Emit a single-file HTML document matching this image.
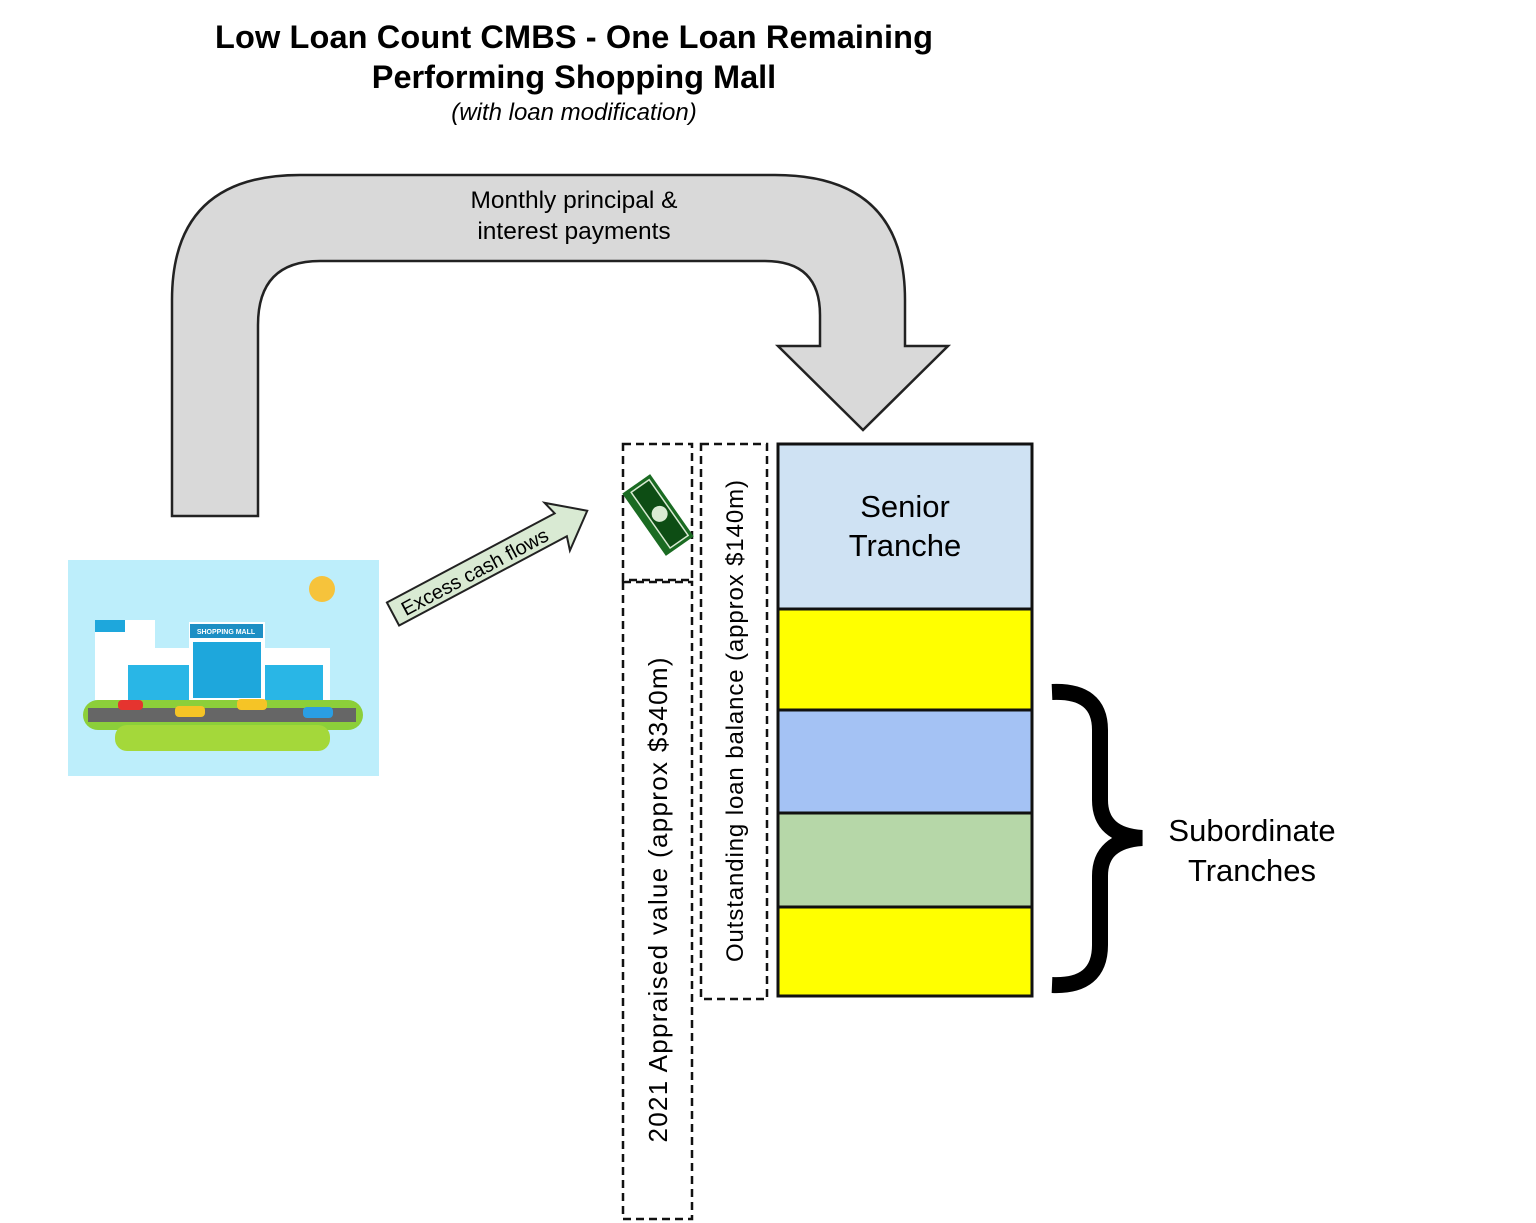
<!DOCTYPE html>
<html><head><style>body{margin:0;background:#fff}svg{display:block}text{font-family:"Liberation Sans",sans-serif}</style></head><body>
<svg width="1536" height="1223" viewBox="0 0 1536 1223">
<text x="574" y="48" text-anchor="middle" font-size="32.5" font-weight="bold" textLength="718">Low Loan Count CMBS - One Loan Remaining</text>
<text x="574" y="88" text-anchor="middle" font-size="32.5" font-weight="bold">Performing Shopping Mall</text>
<text x="574" y="120" text-anchor="middle" font-size="24" font-style="italic">(with loan modification)</text>
<path d="M172,516 L172,300 Q172,175 300,175 L775,175 Q905,175 905,300 L905,346 L948,346 L863,430 L778,346 L820,346 L820,315 Q820,261 765,261 L320,261 Q258,261 258,325 L258,516 Z" fill="#d9d9d9" stroke="#222" stroke-width="2.5"/>
<text x="574" y="208" text-anchor="middle" font-size="24.5">Monthly principal &amp;</text>
<text x="574" y="239" text-anchor="middle" font-size="24.5">interest payments</text>
<g transform="translate(393,614) rotate(-28)">
<path d="M0,-13 L190,-13 L186,-27 L220,0 L186,27 L190,13 L0,13 Z" fill="#d9ead3" stroke="#222" stroke-width="2"/>
<text x="92" y="8" text-anchor="middle" font-size="20">Excess cash flows</text>
</g>
<rect x="68" y="560" width="311" height="216" fill="#bdeefb"/>
<circle cx="322" cy="589" r="13" fill="#f6c33b"/>
<rect x="95" y="620" width="60" height="80" fill="#fff"/>
<rect x="95" y="620" width="30" height="12" fill="#1ea7dc"/>
<rect x="125" y="648" width="205" height="52" fill="#fff"/>
<rect x="128" y="665" width="195" height="35" fill="#29b6e6"/>
<rect x="189" y="622" width="76" height="78" fill="#fff"/>
<rect x="190" y="624" width="73" height="14" fill="#1d8fc4"/>
<text x="226" y="634" text-anchor="middle" font-size="7" fill="#fff" font-weight="bold">SHOPPING MALL</text>
<rect x="193" y="642" width="68" height="56" fill="#1ea7dc"/>
<rect x="83" y="700" width="280" height="30" rx="15" fill="#8ccf3a"/>
<rect x="88" y="708" width="268" height="14" fill="#666"/>
<rect x="115" y="725" width="215" height="26" rx="12" fill="#a4d83a"/>
<rect x="118" y="700" width="25" height="10" rx="4" fill="#e5342f"/>
<rect x="175" y="706" width="30" height="11" rx="4" fill="#f5c426"/>
<rect x="237" y="699" width="30" height="11" rx="4" fill="#f5c426"/>
<rect x="303" y="707" width="30" height="11" rx="4" fill="#2a9ee3"/>
<g fill="none" stroke="#111" stroke-width="2.5" stroke-dasharray="8,5">
<rect x="623" y="444" width="69" height="136"/>
<rect x="623" y="582" width="69" height="637"/>
<rect x="701" y="444" width="66" height="555"/>
</g>
<g transform="translate(658,515) rotate(55)">
<rect x="-38" y="-17" width="76" height="34" fill="#1a6b22"/>
<rect x="-34" y="-13" width="68" height="22" fill="#0d4d14" stroke="#d9ead3" stroke-width="1.5"/>
<circle cx="0" cy="-2" r="8" fill="#d9ead3"/>
</g>
<text transform="translate(667,900) rotate(-90)" text-anchor="middle" font-size="26" textLength="485">2021 Appraised  value (approx $340m)</text>
<text transform="translate(743,721) rotate(-90)" text-anchor="middle" font-size="24" textLength="482">Outstanding loan balance (approx $140m)</text>
<g stroke="#111" stroke-width="3">
<rect x="778" y="444" width="254" height="165" fill="#cfe2f3"/>
<rect x="778" y="609" width="254" height="101" fill="#ffff00"/>
<rect x="778" y="710" width="254" height="103" fill="#a4c2f4"/>
<rect x="778" y="813" width="254" height="94" fill="#b6d7a8"/>
<rect x="778" y="907" width="254" height="89" fill="#ffff00"/>
</g>
<text x="905" y="517" text-anchor="middle" font-size="31">Senior</text>
<text x="905" y="556" text-anchor="middle" font-size="31">Tranche</text>
<path d="M1052,692 Q1100,690 1100,730 L1100,800 Q1100,835 1142,838 Q1100,841 1100,876 L1100,945 Q1100,987 1052,985" fill="none" stroke="#000" stroke-width="16"/>
<text x="1252" y="841" text-anchor="middle" font-size="31">Subordinate</text>
<text x="1252" y="881" text-anchor="middle" font-size="31">Tranches</text>
</svg>
</body></html>
